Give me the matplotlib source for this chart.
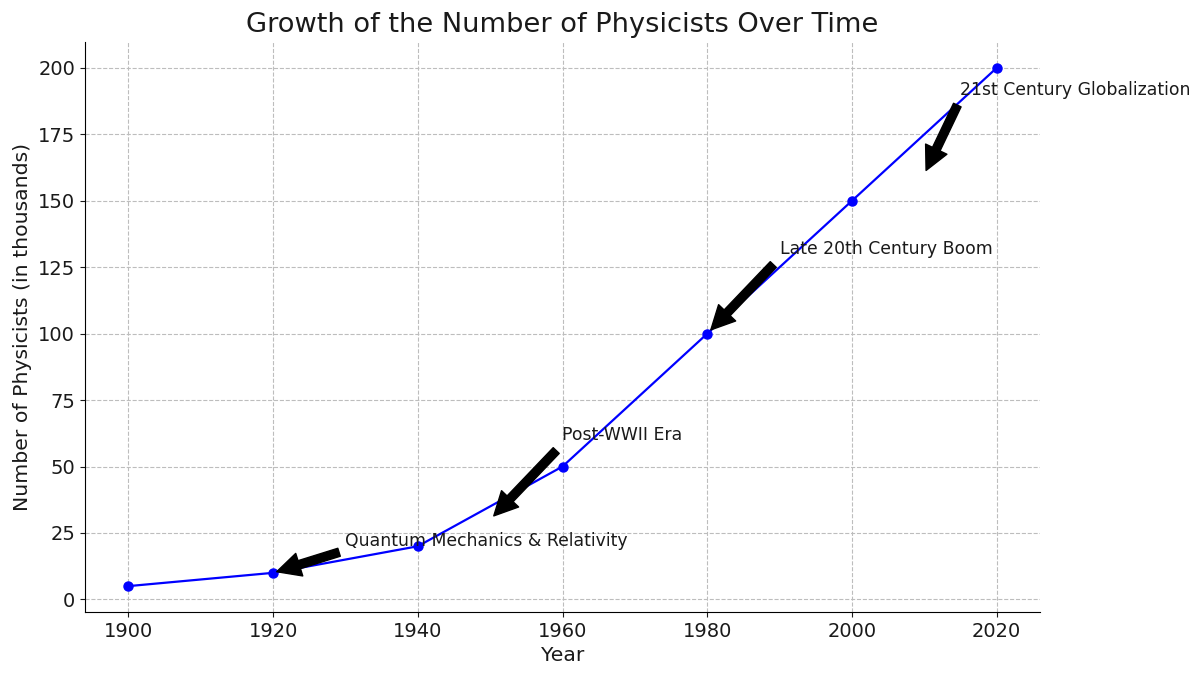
import matplotlib
matplotlib.use("Agg")
import matplotlib.pyplot as plt

years = [1900, 1920, 1940, 1960, 1980, 2000, 2020]
physicists = [5, 10, 20, 50, 100, 150, 200]

ann_texts = ["Quantum Mechanics & Relativity", "Post-WWII Era",
             "Late 20th Century Boom", "21st Century Globalization"]
ann_xy = [(1920, 10), (1950, 30), (1980, 100), (2010, 160)]
ann_xytext = [(1930, 20), (1960, 60), (1990, 130), (2015, 190)]

fig = plt.figure(figsize=(12, 6.78), dpi=100)
ax = fig.add_axes([0.0708, 0.0973, 0.7959, 0.8407])
ax.plot(years, physicists, marker='o', color='blue', linewidth=1.6, markersize=6.5)

for t, xy, xyt in zip(ann_texts, ann_xy, ann_xytext):
    ax.annotate(t, xy=xy, xytext=xyt, fontsize=12.4, color='#1a1a1a',
                arrowprops=dict(facecolor='black', shrink=0.05, width=6, headwidth=17, headlength=17))

ax.set_title("Growth of the Number of Physicists Over Time", fontsize=19.6, color='#1a1a1a', pad=7)
ax.set_xlabel("Year", fontsize=14.7, color='#1a1a1a')
ax.set_ylabel("Number of Physicists (in thousands)", fontsize=14.7, color='#1a1a1a')
ax.tick_params(labelsize=14, colors='#1a1a1a')
ax.grid(True, linestyle='--', color='#bdbdbd', linewidth=0.8)
ax.spines['top'].set_visible(False)
ax.spines['right'].set_visible(False)

fig.savefig("out.png", dpi=100)
